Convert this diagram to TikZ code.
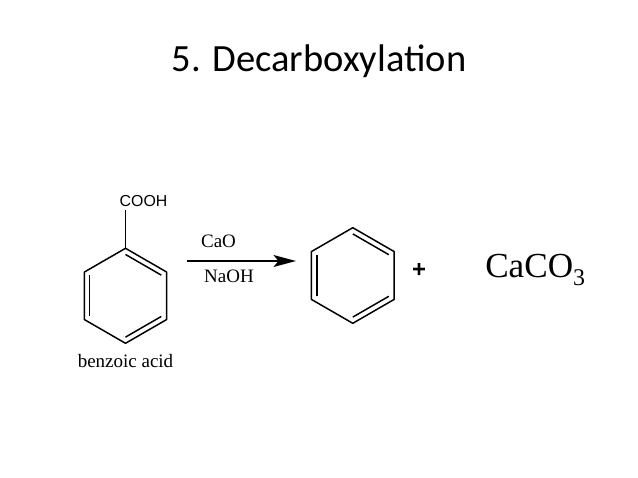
\documentclass[tikz,border=0pt]{standalone}
\usepackage{fontspec}
\setmainfont{Liberation Serif}
\setsansfont{Liberation Sans}
\newfontfamily\titlefont{Carlito}
\usetikzlibrary{calc}
\usetikzlibrary{arrows.meta}

\tikzset{
  bond/.style={line width=1.05pt, line join=bevel},
  chemtext/.style={inner sep=0pt, font=\fontsize{13.5}{15}\selectfont},
  reaction/.style={line width=1.05pt, -{Stealth[length=16pt, width=8.5pt, inset=3.5pt]}}
}

\begin{document}
\begin{tikzpicture}[x=.025cm, y=-.025cm, line join=bevel]
  \useasboundingbox (0,0) rectangle (638,478);
  \node[inner sep=0pt, font=\titlefont\fontsize{27.4}{32}\selectfont] (title) at (319,61.5) {5. Decarboxylation};

  % both rings: inner lines on every second edge
  \foreach \ring/\cx/\cy/\rad in {acid/125.5/295.8/47.5, benzene/352.8/275.5/47.8} {
    \coordinate (\ring) at (\cx,\cy);
    \foreach \i in {1,...,6}
      \coordinate (\ring\i) at ($(\ring)+({90-60*(\i-1)}:\rad*.025cm)$);
    \draw[bond] (\ring1) -- (\ring2) -- (\ring3) -- (\ring4) -- (\ring5) -- (\ring6) -- cycle;
    \draw[bond] ($(\ring)!.87!(\ring1)$) -- ($(\ring)!.87!(\ring2)$);
    \draw[bond] ($(\ring)!.87!(\ring3)$) -- ($(\ring)!.87!(\ring4)$);
    \draw[bond] ($(\ring)!.87!(\ring5)$) -- ($(\ring)!.87!(\ring6)$);
  }

  \node[chemtext, font=\sffamily\fontsize{11.3}{13}\selectfont] (cooh) at (143.5,201) {COOH};
  \coordinate (coohbase) at (125.5,210);
  \draw[bond] (acid1) -- (coohbase);

  \node[chemtext] (name) at (125.5,361.5) {benzoic acid};
  \node[chemtext] (cao) at (218.5,241) {CaO};
  \node[chemtext] (naoh) at (229,276.5) {NaOH};

  \coordinate (start) at (187,261);
  \coordinate (end) at (296,261);
  \draw[reaction] (start) -- (end);

  \node[chemtext, font=\sffamily\bfseries\fontsize{17}{19}\selectfont] (plus) at (419,270) {+};
  \node[chemtext, font=\fontsize{25}{30}\selectfont, anchor=base west] (caco) at (485,277.7) {CaCO\raisebox{-5.2pt}{\fontsize{17}{19}\selectfont 3}};
\end{tikzpicture}
\end{document}
